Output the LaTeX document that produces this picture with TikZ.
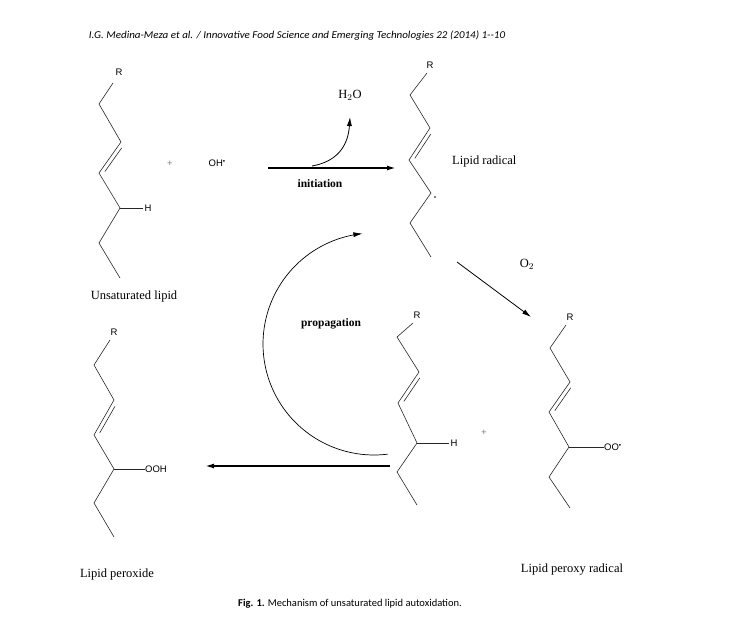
\documentclass[tikz,border=0pt]{standalone}
\usepackage{fontspec}
\setmainfont{Liberation Serif}
\newfontfamily\atomf{Liberation Sans}
\newfontfamily\capf{Carlito}
\usetikzlibrary{calc,arrows.meta}
\begin{document}
\begin{tikzpicture}[x=1pt,y=-1pt,
  bond/.style={line width=0.6pt,black!85,line join=miter},
  atom/.style={font=\atomf\fontsize{9.5}{10}\selectfont,inner sep=0pt},
  lab/.style={font=\fontsize{12.5}{14}\selectfont,inner sep=0pt},
  blab/.style={font=\bfseries\fontsize{11.5}{13}\selectfont,inner sep=0pt},
  bigarrow/.style={line width=1.6pt,-{Latex[length=9pt,width=5pt]}},
  thinarrow/.style={line width=0.8pt,-{Latex[length=9pt,width=5pt]}}]
\useasboundingbox (0,0) rectangle (731,629);
\newcommand\mol[8]{%
  \draw[bond] #1 -- #2 -- #3 -- #4 -- #5 -- #6 -- #7;
  \draw[bond] ($#3!0.12!#4+(3.3,2.2)$) -- ($#4!0.12!#3+(3.3,2.2)$);}
\newcommand\rad{\raisebox{4pt}{\scalebox{0.5}{$\bullet$}}}
% molecule 1
\node[atom] (r1) at (119,72) {R};
\mol{(113,83)}{(99,104)}{(121,142)}{(99,173)}{(120,208)}{(99,243)}{(120,278)}{}
\draw[bond] (120,208) -- (143,208);
\node[atom] (h1) at (148,208) {H};
\node[atom,text=black!50] (plus1) at (170,164) {+};
\node[atom] (oh) at (217,163) {OH\rad};
% molecule 2
\node[atom] (r2) at (430,65) {R};
\mol{(427,73)}{(410,95)}{(430,128)}{(409,160)}{(431,193)}{(410,223)}{(431,257)}{}
\fill (435,197) circle (0.8);
% molecule 3
\node[atom] (r3) at (417,315) {R};
\mol{(413,323)}{(397,337)}{(419,372)}{(398,403)}{(417,443)}{(397,472)}{(417,505)}{}
\draw[bond] (417,443) -- (449,443);
\node[atom] (h3) at (454,443) {H};
\node[atom,text=black!50] (plus2) at (484,433) {+};
% molecule 4
\node[atom] (r4) at (570,317) {R};
\mol{(566,325)}{(550,348)}{(570,382)}{(549,412)}{(569,447)}{(549,477)}{(570,508)}{}
\draw[bond] (569,447) -- (604,447);
\node[atom,anchor=west] (oo) at (604,447) {OO\rad};
% molecule 5
\node[atom] (r5) at (114,332) {R};
\mol{(110,340)}{(94,365)}{(114,400)}{(94,435)}{(114,469)}{(94,503)}{(114,537)}{}
\draw[bond] (114,469) -- (145,469);
\node[atom,anchor=west] (ooh) at (145,469) {OOH};
% labels
\node[lab] (l1) at (134,296) {Unsaturated lipid};
\node[lab,anchor=west] (l2) at (452,161) {Lipid radical};
\node[lab] (l3) at (117,574) {Lipid peroxide};
\node[lab] (l4) at (572,570) {Lipid peroxy radical};
\node[lab] (h2o) at (350,95) {H$_2$O};
\node[lab] (o2) at (527,264) {O$_2$};
\node[blab] (init) at (320,184) {initiation};
\node[blab] (prop) at (331,324) {propagation};
% arrows
\coordinate (ia) at (268,168); \coordinate (ib) at (396,168);
\draw[bigarrow] (ia) -- (ib);
\coordinate (hs) at (312,166); \coordinate (he) at (350,117);
\draw[thinarrow] (hs) .. controls (335,162) and (348,148) .. (he);
\coordinate (oa) at (457,262); \coordinate (ob) at (531,317);
\draw[thinarrow] (oa) -- (ob);
\coordinate (ba) at (390,466); \coordinate (bb) at (205,466);
\draw[bigarrow] (ba) -- (bb);
\draw[line width=0.7pt,-{Latex[length=9pt,width=5pt]}] plot[domain=277:96,samples=80,smooth] ({374+111*cos(\x)},{344-111*sin(\x)});
% header / caption
\node[font=\capf\itshape\fontsize{10.5}{12}\selectfont,xscale=1.05] (hdr) at (297,36) {I.G. Medina-Meza et al. / Innovative Food Science and Emerging Technologies 22 (2014) 1--10};
\node[font=\capf\fontsize{10.5}{12}\selectfont] (cap) at (350,604) {\textbf{Fig. 1.} Mechanism of unsaturated lipid autoxidation.};
\end{tikzpicture}
\end{document}
